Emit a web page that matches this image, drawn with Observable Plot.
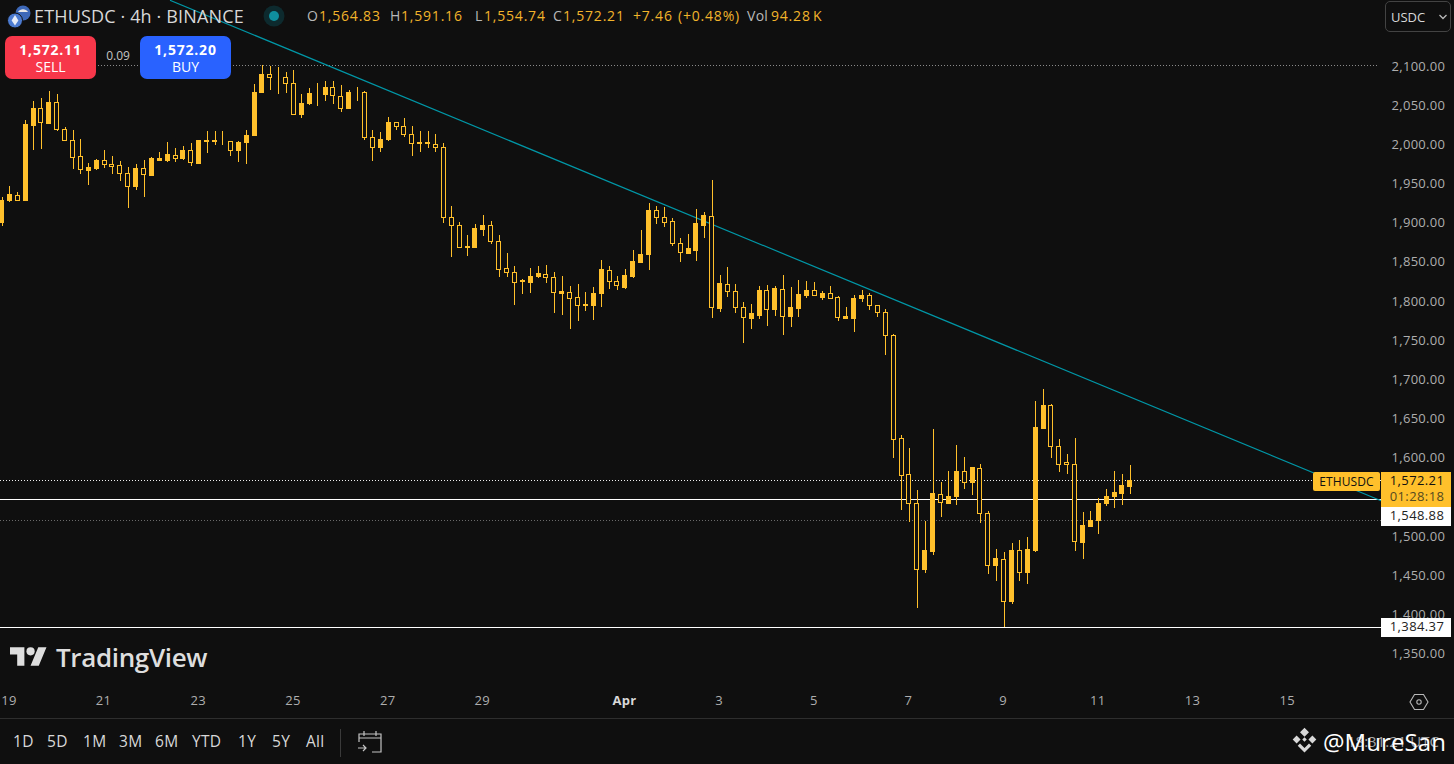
<!DOCTYPE html>
<html><head><meta charset="utf-8">
<script src="https://cdn.jsdelivr.net/npm/d3@7"></script>
<script src="https://cdn.jsdelivr.net/npm/@observablehq/plot@0.6"></script>
<style>
html,body{margin:0;padding:0;background:#0f0f0f;width:1454px;height:764px;overflow:hidden;font-family:"Open Sans",sans-serif;}
#chart{position:absolute;left:0;top:0}
#chart text{letter-spacing:.3px}
.o{position:absolute;white-space:nowrap;line-height:1}
.c{text-align:center}
.g{color:#b8b8b8}.y{color:#f2b42b}
.hd{position:absolute;top:9px;font-size:14px;line-height:1;white-space:nowrap;letter-spacing:.8px}
.bb{position:absolute;top:734px;font-size:15.5px;line-height:1;color:#d8d8d8;letter-spacing:.3px}
</style></head><body>
<div id="chart"></div>
<script>
const firstCandle = "2025-03-18T20:00:00Z";
const opens = [1902,1929,1936,1929,2025,2047,2028,2055,2020,2006,1986,1968,1971,1981,1976,1974,1964,1947,1971,1962,1981,1981,1987,1983,1994,1977,2005,2005,2005,2005,1993,2003,2012,2067,2090,2088,2087,2079,2040,2053,2066,2065,2074,2063,2047,2068,2068,2010,1997,2007,2029,2024,2014,2002,2002,2001,1997,1908,1898,1869,1870,1893,1898,1877,1843,1838,1826,1825,1832,1835,1831,1811,1812,1806,1796,1796,1811,1840,1826,1819,1832,1851,1860,1917,1908,1903,1875,1862,1866,1898,1909,1792,1822,1813,1793,1779,1783,1815,1790,1816,1781,1792,1808,1815,1806,1811,1806,1779,1779,1804,1808,1796,1787,1757,1625,1579,1543,1458,1481,1554,1543,1551,1584,1569,1587,1530,1464,1471,1417,1483,1454,1483,1639,1668,1616,1595,1593,1493,1513,1521,1542,1551,1556,1564.83];
const highs = [1934,1948,1941,2032,2056,2060,2069,2066,2024,2020,2008,1978,1982,1994,1987,1980,1972,1976,1981,1985,1991,2004,1996,1999,2003,2007,2018,2018,2018,2006,2005,2020,2078,2103,2101,2100,2094,2096,2066,2073,2079,2082,2082,2077,2071,2074,2069,2020,2017,2036,2030,2035,2025,2018,2018,2014,2003,1922,1902,1885,1899,1911,1903,1885,1862,1846,1829,1843,1846,1847,1838,1833,1820,1823,1813,1819,1854,1846,1833,1842,1866,1892,1926,1922,1921,1907,1882,1887,1919,1915,1956,1834,1845,1823,1800,1797,1820,1822,1820,1834,1819,1828,1827,1825,1814,1820,1808,1794,1809,1815,1811,1796,1791,1759,1630,1613,1560,1520,1638,1570,1584,1617,1602,1589,1593,1533,1484,1481,1492,1496,1500,1674,1689,1670,1625,1606,1626,1532,1533,1550,1561,1584,1580,1591.16];
const lows = [1897,1927,1929,1929,1994,1995,2027,2018,2005,1970,1963,1949,1968,1971,1963,1954,1920,1943,1934,1962,1980,1979,1979,1981,1974,1976,1990,2001,2000,1986,1979,1976,2012,2067,2071,2066,2067,2040,2035,2052,2050,2056,2053,2042,2047,2057,2007,1980,1991,2006,2020,2011,1986,1991,1996,1991,1901,1857,1869,1859,1870,1884,1874,1832,1832,1796,1810,1811,1831,1824,1786,1783,1765,1776,1788,1777,1794,1817,1815,1817,1831,1851,1841,1900,1896,1871,1851,1861,1852,1882,1779,1787,1806,1786,1748,1765,1778,1769,1782,1758,1768,1781,1805,1808,1802,1805,1776,1778,1762,1800,1790,1781,1732,1601,1534,1519,1409,1454,1477,1525,1543,1541,1561,1553,1518,1453,1444,1384.37,1414,1444,1440,1481,1639,1601,1583,1580,1482,1472,1513,1504,1539,1537,1541,1554.74];
const closes = [1930,1937,1930,2026,2047,2029,2055,2020,2006,1985,1969,1972,1981,1975,1973,1964,1947,1971,1963,1983,1983,1988,1983,1994,1978,2006,2006,2006,2005,1994,2004,2013,2068,2091,2086,2088,2079,2040,2054,2066,2066,2074,2064,2047,2068,2068,2010,1997,2008,2029,2024,2014,2002,2003,2003,1997,1908,1898,1869,1871,1894,1898,1877,1842,1837,1825,1827,1833,1836,1831,1812,1813,1805,1796,1797,1811,1841,1826,1821,1834,1852,1861,1917,1908,1902,1874,1863,1868,1900,1911,1793,1823,1813,1793,1780,1785,1815,1790,1817,1781,1793,1809,1815,1808,1811,1805,1780,1781,1805,1808,1795,1786,1757,1624,1578,1542,1458,1482,1556,1544,1552,1584,1569,1588,1530,1464,1472,1417,1483,1454,1484,1640,1668,1615,1593,1592,1494,1514,1521,1543,1552,1557,1565,1572.21];

const priceTicks = [1350,1400,1450,1500,1550,1600,1650,1700,1750,1800,1850,1900,1950,2000,2050,2100];
const dayTicks = ["2025-03-19","2025-03-21","2025-03-23","2025-03-25","2025-03-27","2025-03-29","2025-04-03","2025-04-05","2025-04-07","2025-04-09","2025-04-11","2025-04-13","2025-04-15"];
const dayLabels = ["19","21","23","25","27","29","3","5","7","9","11","13","15"];
const monthTick = "2025-04-01";
const monthLabel = "Apr";
const trendTimes = ["2025-03-22T09:24:00Z","2025-04-16T22:48:00Z"];
const trendPrices = [2185.6,1547];
const lastPrice = 1572.21, bidLine = 1548.88, lowLine = 1384.37, highDotted = 2102, midDotted = 1521;

const H4 = 4*3600e3;
const t0 = +new Date(firstCandle);
const candles = opens.map((o,i)=>({t:new Date(t0+i*H4),o,h:highs[i],l:lows[i],c:closes[i]}));
const trend = trendTimes.map((t,i)=>({t:new Date(t),p:trendPrices[i]}));
const GOLD="#ffc02b", BG="#0f0f0f", half=1.014*3600e3;
const dayDates = dayTicks.map(d=>new Date(d+"T00:00:00Z"));
const labelOf = new Map(dayDates.map((d,i)=>[+d,dayLabels[i]]));
const F='"Open Sans",sans-serif';

const plot = Plot.plot({
  width:1454,height:718,marginLeft:0,marginTop:0,marginRight:73,marginBottom:38,
  style:{background:BG,fontFamily:F,overflow:"visible"},
  x:{type:"utc",domain:[new Date("2025-03-18T19:14:00Z"),new Date("2025-04-16T23:18:00Z")]},
  y:{domain:[1317.2,2185.6]},
  marks:[
    Plot.ruleY([highDotted],{stroke:"#8a8a8a",strokeDasharray:"1 2",strokeWidth:1,x1:new Date("2025-03-18T21:40:00Z"),x2:new Date("2025-04-16T22:18:00Z"),shapeRendering:"crispEdges"}),
    Plot.ruleY([midDotted],{stroke:"#6a6a6a",strokeDasharray:"1 2",strokeWidth:1,shapeRendering:"crispEdges"}),
    Plot.ruleY([lastPrice],{stroke:"#f0f0f0",strokeDasharray:"1 2",strokeWidth:1,shapeRendering:"crispEdges"}),
    Plot.ruleY([bidLine,lowLine],{stroke:"#ffffff",strokeWidth:1,shapeRendering:"crispEdges"}),
    Plot.line(trend,{x:"t",y:"p",stroke:"#0097a7",strokeWidth:1.2,clip:"frame"}),
    Plot.ruleX(candles,{x:"t",y1:"l",y2:"h",stroke:GOLD,strokeWidth:1,clip:"frame",shapeRendering:"crispEdges"}),
    Plot.rect(candles,{x1:d=>new Date(+d.t-half),x2:d=>new Date(+d.t+half),y1:"o",y2:"c",
      fill:d=>d.c>=d.o?GOLD:BG,stroke:GOLD,strokeWidth:1,clip:"frame",shapeRendering:"crispEdges"}),
    Plot.axisY(priceTicks,{anchor:"right",tickSize:0,tickPadding:10,dy:-1,label:null,tickFormat:d3.format(",.2f"),fill:"#aeaeae",fontSize:13}),
    Plot.axisX(dayDates,{anchor:"bottom",tickSize:0,tickPadding:15,dx:-1,label:null,tickFormat:d=>labelOf.get(+d),fill:"#aeaeae",fontSize:13}),
    Plot.axisX([new Date(monthTick+"T00:00:00Z")],{anchor:"bottom",tickSize:0,tickPadding:15,dx:-1,label:null,tickFormat:()=>monthLabel,fill:"#d8d8d8",fontSize:13,fontWeight:"bold"})
  ]
});
document.getElementById("chart").appendChild(plot);
</script>

<!-- header -->
<svg class="o" style="left:7px;top:4px" width="24" height="25" viewBox="0 0 24 25">
  <circle cx="16" cy="9" r="7.5" fill="#3d68b8"/><path d="M11 8 a6 6 0 0 1 10 0z" fill="#e8e8e8"/>
  <circle cx="8" cy="16.5" r="7.5" fill="#4c7bd0" stroke="#0f0f0f"/><path d="M8 11 l3.4 5.6 -3.4 5 -3.4 -5z" fill="#e6ecf8"/>
</svg>
<div class="o" style="left:34px;top:7px;font-size:18px;color:#d8d8d8;letter-spacing:.15px">ETHUSDC · 4h · BINANCE</div>
<svg class="o" style="left:263px;top:5px" width="22" height="22"><circle cx="11" cy="11" r="10.5" fill="#0d2a2e"/><circle cx="11" cy="11" r="5" fill="#0f8f9e"/></svg>
<span class="hd g" style="left:307px">O</span><span class="hd y" style="left:319px">1,564.83</span>
<span class="hd g" style="left:390px">H</span><span class="hd y" style="left:401px">1,591.16</span>
<span class="hd g" style="left:475px">L</span><span class="hd y" style="left:484px">1,554.74</span>
<span class="hd g" style="left:553px">C</span><span class="hd y" style="left:563px">1,572.21</span>
<span class="hd y" style="left:633px">+7.46</span><span class="hd y" style="left:678px">(+0.48%)</span>
<span class="hd g" style="left:747px;letter-spacing:.3px">Vol</span><span class="hd y" style="left:771px">94.28</span><span class="hd y" style="left:813px">K</span>

<div class="o" style="left:5px;top:36px;width:91px;height:43px;background:#f7374a;border-radius:7px;"></div>
<div class="o c" style="left:5px;top:43px;width:91px;font-size:14px;font-weight:700;color:#fff;letter-spacing:.8px">1,572.11</div>
<div class="o c" style="left:5px;top:60px;width:91px;font-size:14px;color:#fff;">SELL</div>
<div class="o c" style="left:96px;top:50px;width:44px;font-size:12px;color:#c4c4c4;">0.09</div>
<div class="o" style="left:140px;top:36px;width:91px;height:43px;background:#2962ff;border-radius:7px;"></div>
<div class="o c" style="left:140px;top:43px;width:91px;font-size:14px;font-weight:700;color:#fff;letter-spacing:.8px">1,572.20</div>
<div class="o c" style="left:140px;top:60px;width:91px;font-size:14px;color:#fff;">BUY</div>

<div class="o" style="left:1385px;top:1px;width:66px;height:31px;border:1px solid #434343;border-radius:5px;box-sizing:border-box"></div>
<div class="o" style="left:1391px;top:11px;font-size:13px;color:#d8d8d8;">USDC</div>
<svg class="o" style="left:1437px;top:13px" width="12" height="8"><path d="M2.5 2l3.5 3.5 3.5-3.5" fill="none" stroke="#b8b8b8" stroke-width="1.3"/></svg>

<!-- right pane price tags -->
<div class="o" style="left:1313px;top:472px;width:67px;height:19px;background:#ffc02b;border-radius:2px;"></div>
<div class="o c" style="left:1313px;top:476px;width:67px;font-size:12px;color:#111;letter-spacing:.1px">ETHUSDC</div>
<div class="o" style="left:1381px;top:472px;width:70px;height:35px;background:#ffc02b;"></div>
<div class="o c" style="left:1382px;top:474px;width:70px;font-size:13px;color:#111;letter-spacing:.4px">1,572.21</div>
<div class="o c" style="left:1382px;top:490px;width:70px;font-size:13px;color:#554a20;letter-spacing:.4px">01:28:18</div>
<div class="o" style="left:1381px;top:507px;width:70px;height:19px;background:#fff;"></div>
<div class="o c" style="left:1382px;top:509px;width:70px;font-size:13px;color:#222;letter-spacing:.4px">1,548.88</div>
<div class="o" style="left:1381px;top:618px;width:70px;height:19px;background:#fff;"></div>
<div class="o c" style="left:1382px;top:620px;width:70px;font-size:13px;color:#222;letter-spacing:.4px">1,384.37</div>

<!-- TradingView logo -->
<svg class="o" style="left:10px;top:647px" width="37" height="20" viewBox="0 4 36 19"><g fill="#dedede"><path d="M14 22H7V11H0V4h14v18zM28 22h-8l7.5-18h8L28 22z"/><circle cx="20" cy="8" r="4"/></g></svg>
<div class="o" style="left:56px;top:644px;font-size:26px;font-weight:600;color:#dedede;letter-spacing:-.35px">TradingView</div>

<!-- axis separators -->
<div class="o" style="left:0;top:718px;width:1454px;height:1px;background:#2e2e2e"></div>
<svg class="o" style="left:1409px;top:692px" width="20" height="20" viewBox="0 0 20 20"><path d="M5.5 2.5h9L19 10l-4.5 7.5h-9L1 10z" fill="none" stroke="#b8b8b8" stroke-width="1.1"/><circle cx="10" cy="10" r="2.2" fill="none" stroke="#b8b8b8" stroke-width="1.1"/></svg>

<!-- bottom bar -->
<div class="bb" style="left:13px">1D</div>
<div class="bb" style="left:47px">5D</div>
<div class="bb" style="left:83px">1M</div>
<div class="bb" style="left:119px">3M</div>
<div class="bb" style="left:155px">6M</div>
<div class="bb" style="left:192px">YTD</div>
<div class="bb" style="left:238px">1Y</div>
<div class="bb" style="left:272px">5Y</div>
<div class="bb" style="left:306px">All</div>
<div class="o" style="left:340px;top:729px;width:1px;height:28px;background:#3a3a3a"></div>
<svg class="o" style="left:357px;top:729px" width="26" height="25" viewBox="0 0 26 25" fill="none" stroke="#c4c4c4" stroke-width="1.2"><path d="M2 13V5h22v18h-9M2 9h22M7 2v5M19 2v5M1 19h8M6 16l3 3-3 3"/></svg>

<!-- watermark -->
<div class="o" style="left:1347px;top:734px;font-size:15px;color:#a4a4a4;">18:31:21 UTC</div>
<svg class="o" style="left:1291px;top:726px" width="27" height="28" viewBox="0 0 24 24" fill="#d8d8d8"><path d="M12 1l4 4-4 4-4-4zM5 8l3.5 3.5L5 15l-3.5-3.5zM19 8l3.5 3.5L19 15l-3.5-3.5zM12 9.5l2 2-2 2-2-2z"/><path d="M12 23l-6-6 2-2 4 4 4-4 2 2z"/></svg>
<div class="o" style="left:1323px;top:730px;font-size:24px;color:#fff;letter-spacing:.1px">@MureSan</div>
</body></html>
